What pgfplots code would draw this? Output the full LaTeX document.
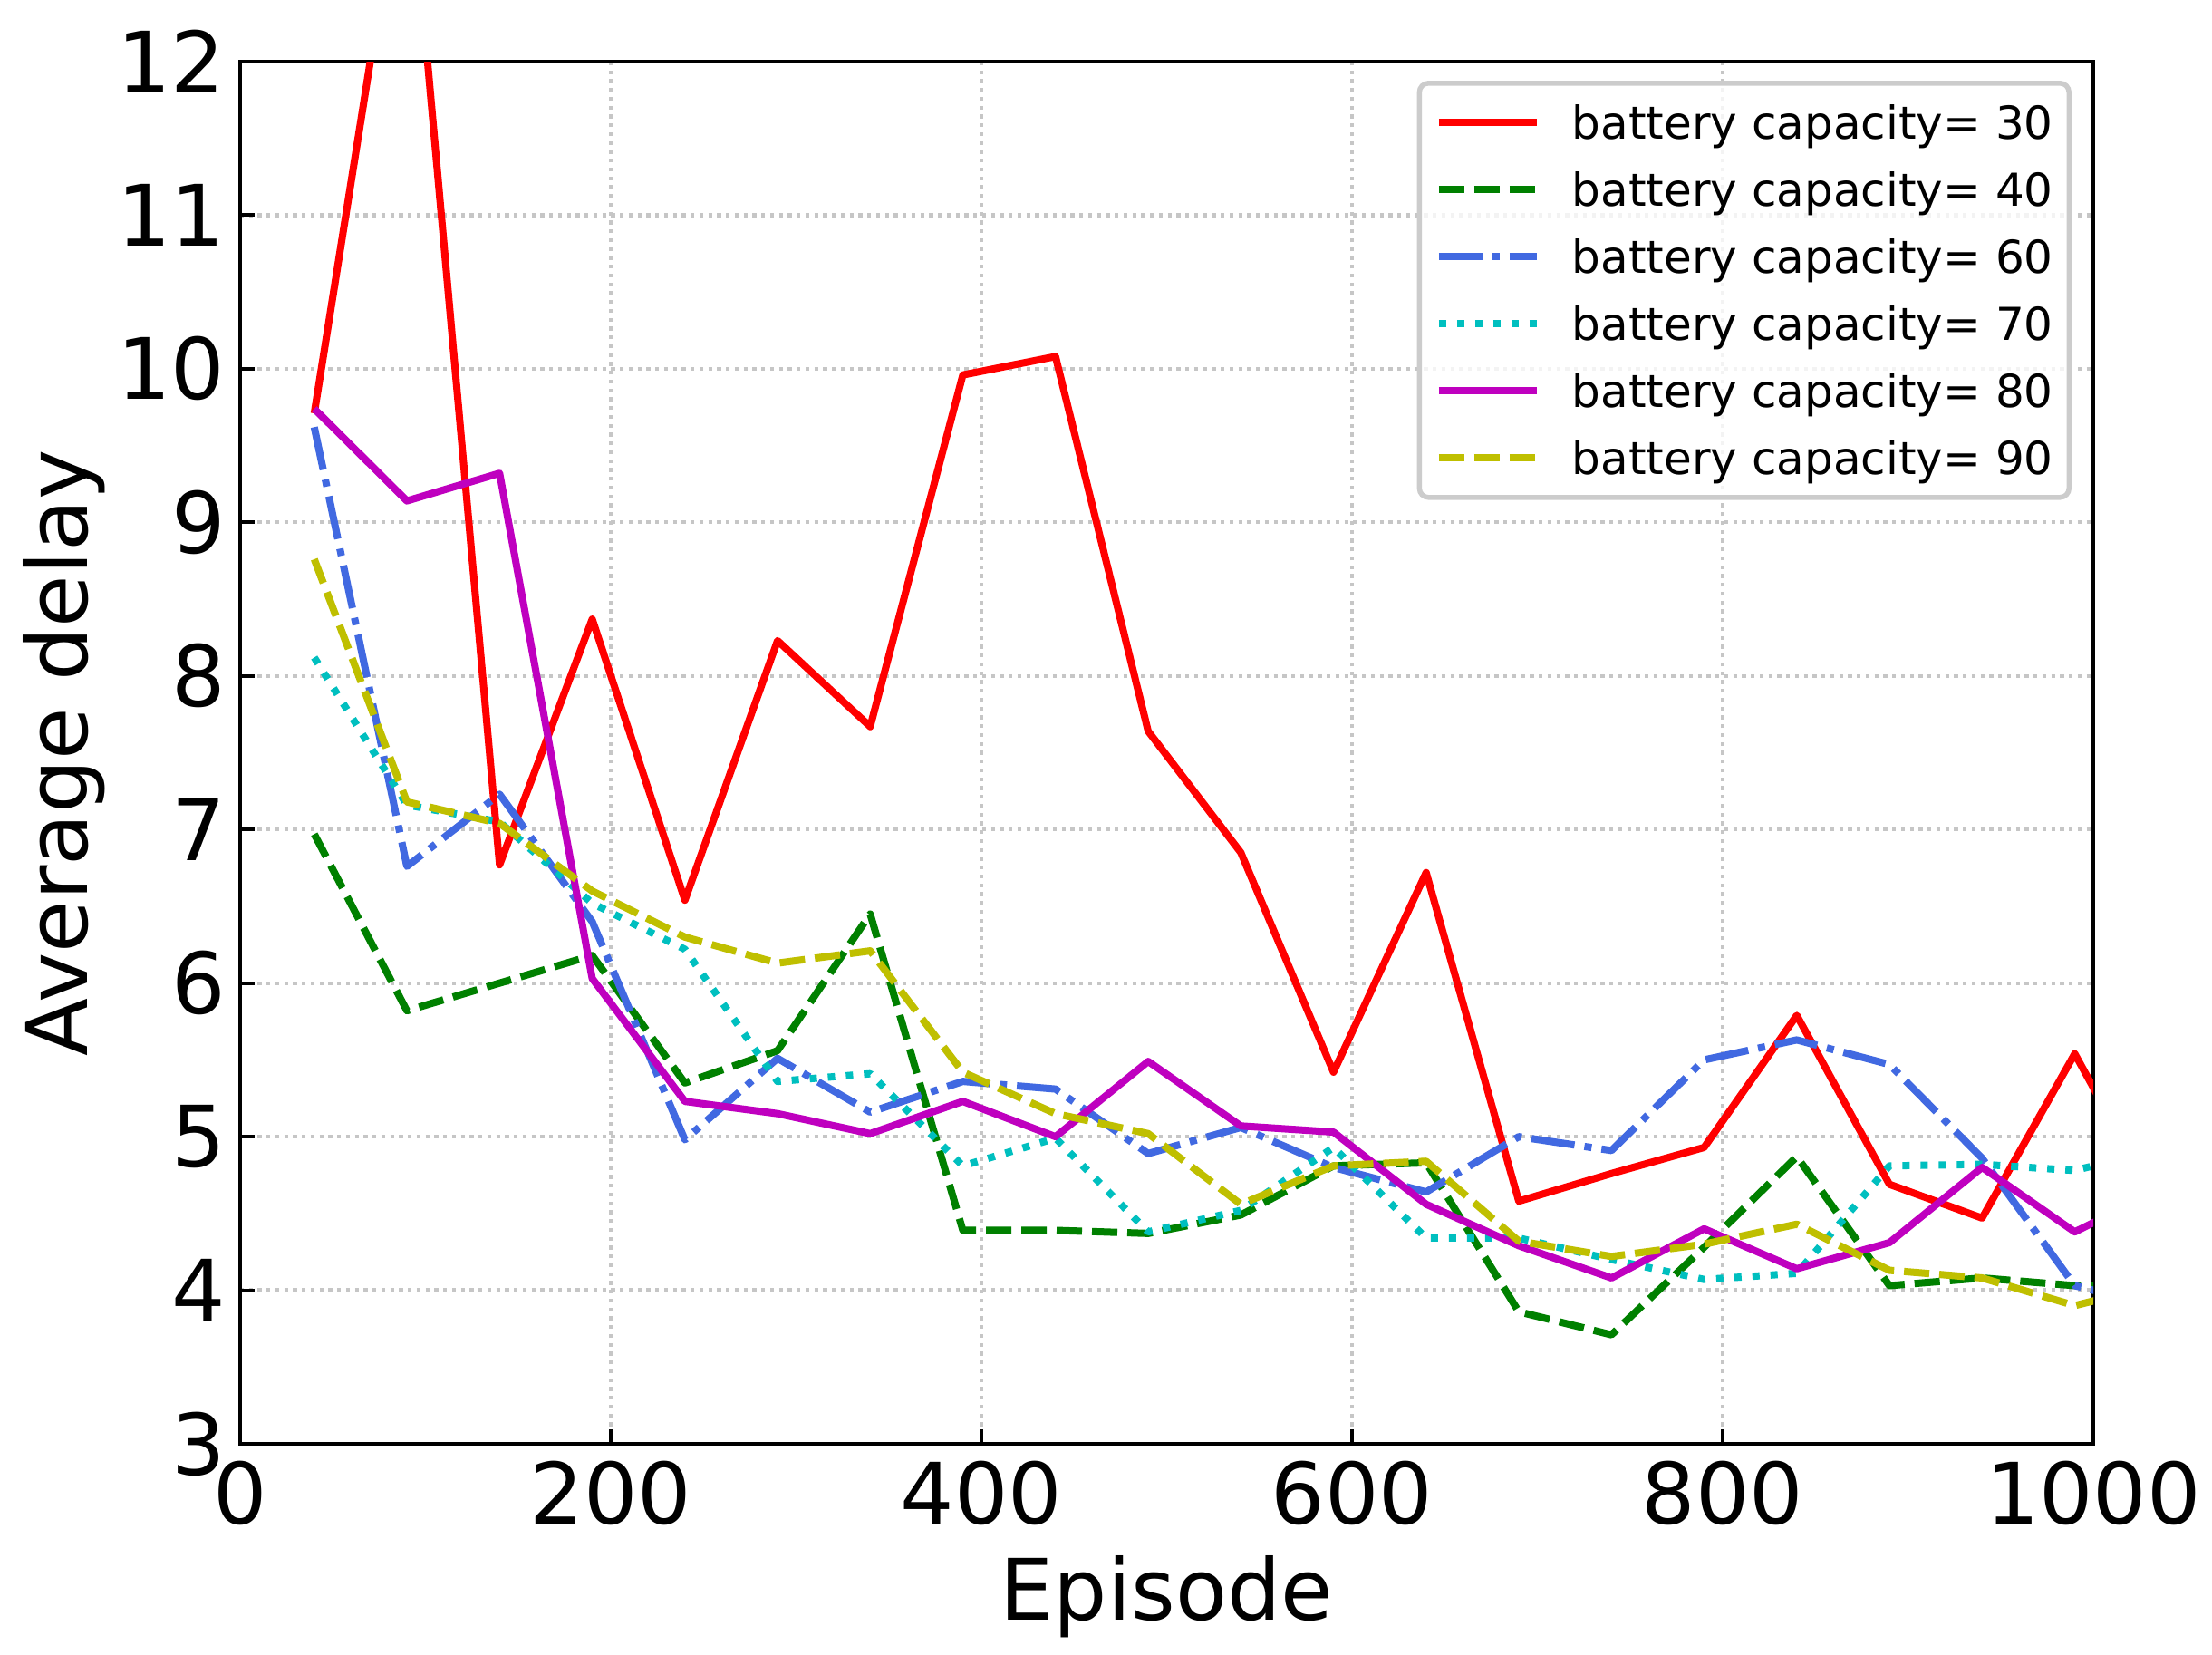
\documentclass[border=0pt]{standalone}
\usepackage{fontspec}
\setmainfont{DejaVu Sans}
\usepackage{pgfplots}
\usepackage{pgfplotstable}
\pgfplotsset{compat=1.18}
\definecolor{cR}{HTML}{FF0000}
\definecolor{cG}{HTML}{008000}
\definecolor{cB}{HTML}{4169E1}
\definecolor{cC}{HTML}{00BFBF}
\definecolor{cM}{HTML}{BF00BF}
\definecolor{cY}{HTML}{BFBF00}
\pgfplotstableread{
ep   r     g     b     c     m     y
40   9.71  6.97  9.62  8.12  9.74  8.76
90   13.5  5.82  6.76  7.16  9.14  7.18
140  6.77  6.00  7.23  7.05  9.32  7.04
190  8.37  6.18  6.40  6.52  6.03  6.60
240  6.54  5.35  4.98  6.22  5.23  6.30
290  8.23  5.56  5.51  5.36  5.15  6.13
340  7.67  6.45  5.16  5.41  5.02  6.21
390  9.96  4.39  5.36  4.81  5.23  5.42
440  10.08 4.39  5.31  4.99  5.00  5.15
490  7.64  4.37  4.89  4.38  5.49  5.02
540  6.85  4.49  5.06  4.52  5.07  4.56
590  5.42  4.81  4.80  4.93  5.03  4.81
640  6.72  4.83  4.64  4.34  4.56  4.84
690  4.58  3.86  5.00  4.34  4.29  4.32
740  4.76  3.71  4.91  4.20  4.08  4.22
790  4.93  4.28  5.50  4.07  4.40  4.30
840  5.79  4.87  5.63  4.11  4.14  4.43
890  4.69  4.03  5.47  4.81  4.31  4.13
940  4.47  4.08  4.86  4.82  4.80  4.08
990  5.54  4.03  4.03  4.78  4.38  3.90
1040 4.44  4.01  3.88  4.93  4.68  4.05
}\datatable
\begin{document}
\begin{tikzpicture}
\begin{axis}[
  at={(0,0)}, anchor=south west,
  scale only axis, width=409pt, height=305pt,
  xmin=0, xmax=1000, ymin=3, ymax=12,
  xtick={0,200,...,1000}, ytick={3,4,...,12},
  tick align=inside, xtick pos=bottom, ytick pos=left,
  major tick length=3.3pt,
  every tick/.style={black, line width=0.8pt},
  axis line style={line width=0.8pt},
  grid=major,
  major grid style={line width=0.85pt, color=gray!45, dash pattern=on 0.85pt off 1.1pt},
  /pgf/number format/1000 sep={},
  /pgf/number format/assume math mode=true,
  tick label style={font=\fontsize{18.7}{22}\selectfont, inner xsep=3.1pt, inner ysep=3.7pt},
  label style={font=\fontsize{18.7}{22}\selectfont, inner sep=0pt},
  xlabel={Episode}, ylabel={Average delay},
  xlabel style={at={(axis description cs:0.5,-0.0803)}, anchor=north},
  ylabel style={at={(axis description cs:-0.1178,0.5)}, anchor=north},
  legend style={
    at={(axis description cs:1,1)}, anchor=north east, xshift=-4.8pt, yshift=-4.2pt,
    draw=black!20, line width=1.1pt, rounded corners=2pt,
    fill=white, fill opacity=0.8, text opacity=1, draw opacity=1,
    font=\fontsize{10}{12}\selectfont,
    inner xsep=3.5pt, inner ysep=2.7pt,
    row sep=2.8pt, column sep=7pt,
    nodes={inner sep=0pt, text height=9.6pt, text depth=2.4pt},
  },
  legend cell align=left,
  legend image code/.code={\draw[#1, rounded corners=0pt] (0pt,0pt) -- (21.6pt,0pt);},
  every axis plot/.append style={line width=1.6pt, line join=round},
]
\addplot[cR, solid] table[x=ep, y=r] {\datatable};
\addlegendentry{battery capacity= 30}
\addplot[cG, dash pattern=on 5.6pt off 2.2pt] table[x=ep, y=g] {\datatable};
\addlegendentry{battery capacity= 40}
\addplot[cB, dash pattern=on 9.6pt off 2.2pt on 1.6pt off 2.2pt] table[x=ep, y=b] {\datatable};
\addlegendentry{battery capacity= 60}
\addplot[cC, dash pattern=on 1.6pt off 2.4pt] table[x=ep, y=c] {\datatable};
\addlegendentry{battery capacity= 70}
\addplot[cM, solid] table[x=ep, y=m] {\datatable};
\addlegendentry{battery capacity= 80}
\addplot[cY, dash pattern=on 5.6pt off 2.2pt] table[x=ep, y=y] {\datatable};
\addlegendentry{battery capacity= 90}
\end{axis}
\pgfresetboundingbox
\path (-53pt,-46.4pt) rectangle (435.2pt,318.6pt);
\end{tikzpicture}
\end{document}
